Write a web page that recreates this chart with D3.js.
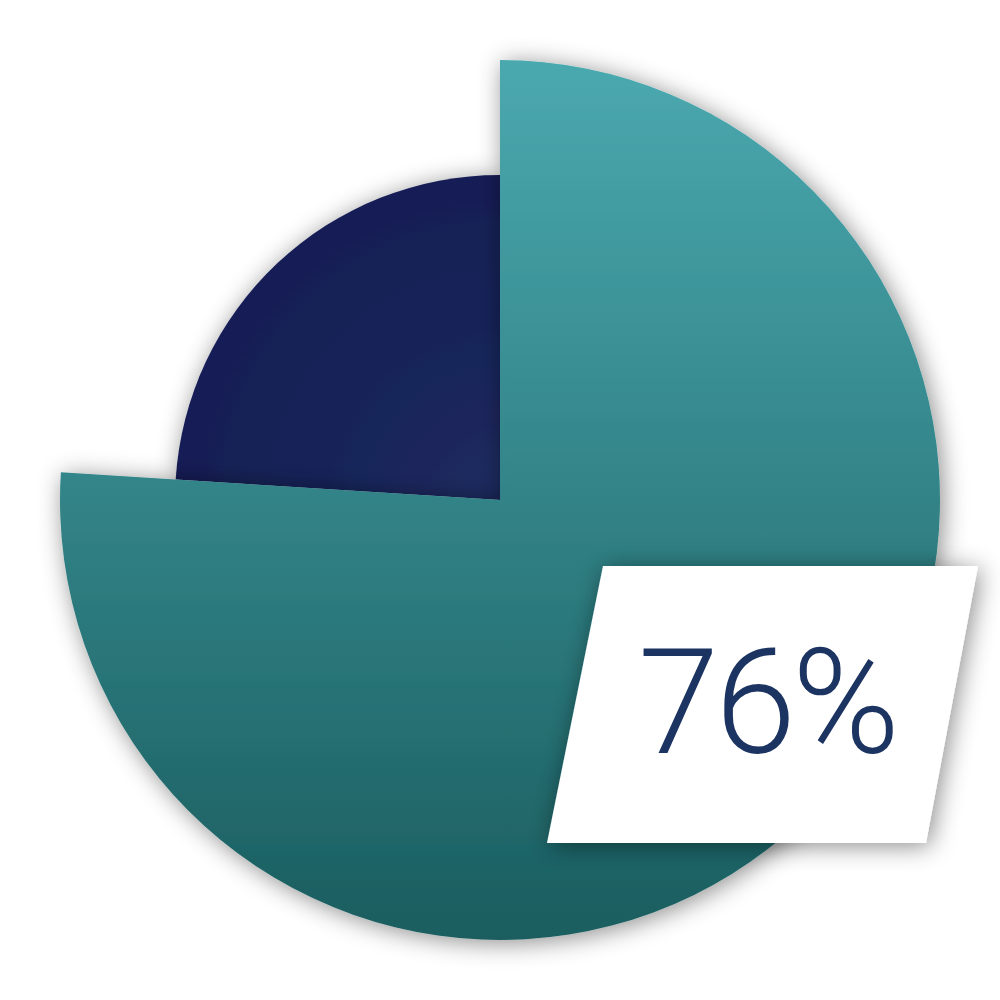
<!DOCTYPE html>
<html lang="en">
<head>
    <meta charset="UTF-8">
    <title>Pie 76%</title>
    <script src="https://cdn.jsdelivr.net/npm/d3@7/dist/d3.min.js"></script>
    <style>
        html, body { margin: 0; padding: 0; background: #fff; }
        svg { display: block; }
    </style>
</head>
<body>
    <script>
        const categories = ["Share", "Rest"];
        const values = [76, 24];
        const labelText = "76%";

        const width = 1000, height = 1000;
        const cx = 500, cy = 500;
        const radii = [440, 325];

        const svg = d3.select("body").append("svg")
            .attr("width", width)
            .attr("height", height);

        const defs = svg.append("defs");

        // gradients are in the pie group's coordinates (centre at 0,0)
        const tealGrad = defs.append("linearGradient")
            .attr("id", "tealGrad")
            .attr("gradientUnits", "userSpaceOnUse")
            .attr("x1", 0).attr("y1", -radii[0])
            .attr("x2", 0).attr("y2", radii[0]);
        tealGrad.append("stop").attr("offset", "0%").attr("stop-color", "#4aa9af");
        tealGrad.append("stop").attr("offset", "100%").attr("stop-color", "#1a5d5f");

        const navyGrad = defs.append("radialGradient")
            .attr("id", "navyGrad")
            .attr("gradientUnits", "userSpaceOnUse")
            .attr("cx", 0).attr("cy", 0).attr("r", radii[1]);
        navyGrad.append("stop").attr("offset", "0%").attr("stop-color", "#1c2b5f");
        navyGrad.append("stop").attr("offset", "100%").attr("stop-color", "#151e54");

        const shadow = defs.append("filter")
            .attr("id", "shadow")
            .attr("x", "-20%").attr("y", "-20%")
            .attr("width", "140%").attr("height", "140%");
        shadow.append("feDropShadow")
            .attr("dx", 3).attr("dy", 3)
            .attr("stdDeviation", 12)
            .attr("flood-color", "#000")
            .attr("flood-opacity", 0.45);

        const pie = d3.pie().sort(null).value(d => d);
        const arcs = pie(values);
        const fills = ["url(#tealGrad)", "url(#navyGrad)"];

        const g = svg.append("g").attr("transform", `translate(${cx},${cy})`);

        // draw the smaller slice first so the big one sits on top
        g.selectAll("path")
            .data(arcs.map((a, i) => ({ a, i })).reverse())
            .enter()
            .append("path")
            .attr("d", d => d3.arc().innerRadius(0).outerRadius(radii[d.i])(d.a))
            .attr("fill", d => fills[d.i])
            .attr("filter", "url(#shadow)");

        // label card (skewed)
        const card = svg.append("g");
        card.append("path")
            .attr("d", "M603,566 L978,566 L926,843 L547,843 Z")
            .attr("fill", "#fff")
            .attr("filter", "url(#shadow)");

        card.append("text")
            .attr("x", 767)
            .attr("y", 753)
            .attr("text-anchor", "middle")
            .style("font-family", "Roboto, 'Liberation Sans', sans-serif")
            .style("font-weight", 300)
            .style("font-size", "146px")
            .style("letter-spacing", "-4px")
            .attr("fill", "#1c3461")
            .text(labelText);
    </script>
</body>
</html>
